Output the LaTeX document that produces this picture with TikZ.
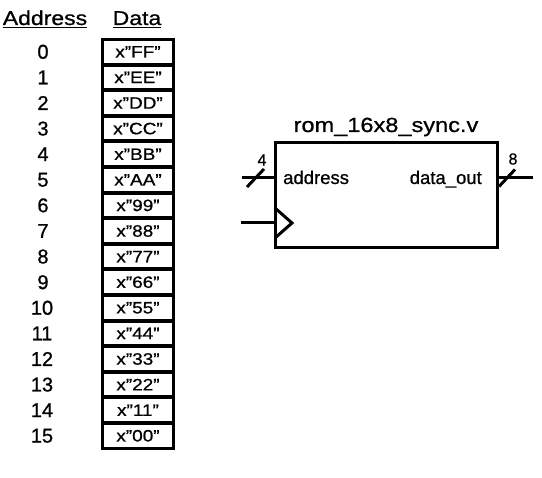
\documentclass[tikz,border=0pt]{standalone}
\usepackage{fontspec}
\setmainfont[FakeStretch=1.15, FakeBold=0.8]{Liberation Sans}
\newfontfamily\plainfont[FakeBold=0.8]{Liberation Sans}

\begin{document}
\begin{tikzpicture}[x=1pt, y=-1pt,
headtext/.style={inner sep=0pt, font=\fontsize{20}{24}\selectfont},
addrnum/.style={inner sep=0pt, font=\plainfont\fontsize{20}{24}\selectfont},
romcell/.style={rectangle, draw, line width=3pt, minimum width=71pt, minimum height=24.6pt, inner sep=0pt, font=\fontsize{16.5}{19}\selectfont},
romblock/.style={rectangle, draw, line width=3pt, minimum width=222pt, minimum height=105pt},
titletext/.style={inner sep=0pt, font=\fontsize{20.5}{24}\selectfont},
porttext/.style={inner sep=0pt, font=\plainfont\fontsize{18.5}{22}\selectfont},
bustext/.style={inner sep=0pt, font=\plainfont\fontsize{16}{19}\selectfont},
wire/.style={line width=3pt},
busmark/.style={line width=3pt}
]
    \useasboundingbox (0,0) rectangle (542,478);

    % headers
    \node[headtext, anchor=base] (hdrAddr) at (45,25) {Address};
    \node[headtext, anchor=base] (hdrData) at (137,25) {Data};
    \draw[line width=1.5pt] ([yshift=-2.5pt]hdrAddr.base west) -- ([yshift=-2.5pt]hdrAddr.base east);
    \draw[line width=1.5pt] ([yshift=-2.5pt]hdrData.base west) -- ([yshift=-2.5pt]hdrData.base east);

    % memory contents
    \node[addrnum] (addr0)  at (43,51.8)  {0};
    \node[addrnum] (addr1)  at (43,77.4)  {1};
    \node[addrnum] (addr2)  at (43,103.0) {2};
    \node[addrnum] (addr3)  at (43,128.6) {3};
    \node[addrnum] (addr4)  at (43,154.2) {4};
    \node[addrnum] (addr5)  at (43,179.8) {5};
    \node[addrnum] (addr6)  at (43,205.4) {6};
    \node[addrnum] (addr7)  at (43,231.0) {7};
    \node[addrnum] (addr8)  at (43,256.6) {8};
    \node[addrnum] (addr9)  at (43,282.2) {9};
    \node[addrnum] (addr10) at (42,307.8) {10};
    \node[addrnum] (addr11) at (42,333.4) {11};
    \node[addrnum] (addr12) at (42,359.0) {12};
    \node[addrnum] (addr13) at (42,384.6) {13};
    \node[addrnum] (addr14) at (42,410.2) {14};
    \node[addrnum] (addr15) at (42,435.8) {15};

    \node[romcell] (cell0)  at (138,51.8)  {x"FF"};
    \node[romcell] (cell1)  at (138,77.4)  {x"EE"};
    \node[romcell] (cell2)  at (138,103.0) {x"DD"};
    \node[romcell] (cell3)  at (138,128.6) {x"CC"};
    \node[romcell] (cell4)  at (138,154.2) {x"BB"};
    \node[romcell] (cell5)  at (138,179.8) {x"AA"};
    \node[romcell] (cell6)  at (138,205.4) {x”99”};
    \node[romcell] (cell7)  at (138,231.0) {x”88”};
    \node[romcell] (cell8)  at (138,256.6) {x”77”};
    \node[romcell] (cell9)  at (138,282.2) {x”66”};
    \node[romcell] (cell10) at (138,307.8) {x”55”};
    \node[romcell] (cell11) at (138,333.4) {x”44”};
    \node[romcell] (cell12) at (138,359.0) {x”33”};
    \node[romcell] (cell13) at (138,384.6) {x”22”};
    \node[romcell] (cell14) at (138,410.2) {x”11”};
    \node[romcell] (cell15) at (138,435.8) {x”00”};

    % rom block symbol
    \node[romblock] (rom) at (386,195.5) {};
    \node[titletext, anchor=base] (romTitle) at (386,132) {rom\_16x8\_sync.v};
    \node[porttext, anchor=base west] (portAddr) at (283,184) {address};
    \node[porttext, anchor=base east] (portData) at (482,184) {data\_out};

    \coordinate (addrIn) at (242,178);
    \coordinate (addrBus) at (255.5,178);
    \coordinate (clkIn) at (241,223);
    \coordinate (clkPin) at (275,223);
    \coordinate (dataOut) at (533,178);
    \coordinate (dataBus) at (507,178);

    \draw[wire] (addrIn) -- (addrIn -| rom.west);
    \draw[busmark] ([shift={(-8.5,9)}]addrBus) -- ([shift={(8.5,-9)}]addrBus);
    \node[bustext] (addrWidth) at (262,160) {4};

    \draw[wire] (clkIn) -- (clkPin);
    \draw[wire] ([shift={(0,-15)}]clkPin) -- ([shift={(17,0)}]clkPin) -- ([shift={(0,15)}]clkPin);

    \draw[wire] (rom.east |- dataOut) -- (dataOut);
    \draw[busmark] ([shift={(-8,8.5)}]dataBus) -- ([shift={(8,-8.5)}]dataBus);
    \node[bustext] (dataWidth) at (513,159) {8};
\end{tikzpicture}
\end{document}
